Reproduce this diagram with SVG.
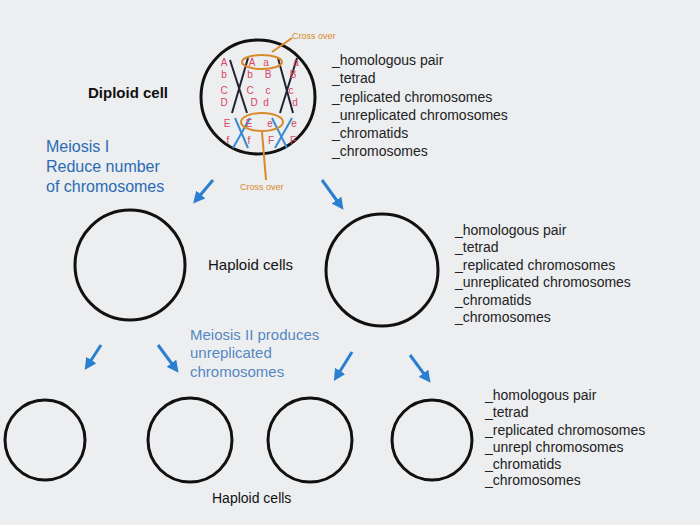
<svg xmlns="http://www.w3.org/2000/svg" width="700" height="525" viewBox="0 0 700 525">
<style>
.c{fill:none;stroke:#111;stroke-width:3}
.t{font-family:"Liberation Sans",Arial,sans-serif;fill:#111}
.lst{font-family:"Liberation Sans",Arial,sans-serif;fill:#222;font-size:14px}
.b{font-family:"Liberation Sans",Arial,sans-serif;fill:#2a6bb5}
.r{font-family:"Liberation Sans",Arial,sans-serif;fill:#d9455f;font-size:10px;text-anchor:middle}
.o{font-family:"Liberation Sans",Arial,sans-serif;fill:#d98a2b;font-size:9px}
.ar{stroke:#2a7fd0;stroke-width:3;fill:none;marker-end:url(#ah)}
</style>
<defs><marker id="ah" viewBox="0 0 10 10" refX="5" refY="5" markerWidth="4" markerHeight="4" orient="auto"><path d="M0,0L10,5L0,10z" fill="#2a7fd0"/></marker></defs>
<rect width="700" height="525" fill="#eceef0"/>
<g id="diploid">
<circle class="c" cx="258" cy="97" r="57"/>
<g stroke="#223" stroke-width="2"><line x1="230" y1="60" x2="247" y2="113"/><line x1="248" y1="58" x2="232" y2="113"/><line x1="278" y1="58" x2="293" y2="113"/><line x1="297" y1="58" x2="280" y2="113"/></g>
<g stroke="#3a8ad0" stroke-width="2"><line x1="235" y1="118" x2="248" y2="148"/><line x1="250" y1="118" x2="233" y2="148"/><line x1="272" y1="118" x2="287" y2="148"/><line x1="292" y1="118" x2="275" y2="148"/></g>
<g class="r"><text x="224" y="66">A</text><text x="252" y="66">A</text><text x="266" y="66">a</text><text x="296" y="66">a</text>
<text x="224" y="78">b</text><text x="250" y="78">b</text><text x="268" y="78">B</text><text x="293" y="78">B</text>
<text x="224" y="94">C</text><text x="250" y="94">C</text><text x="268" y="94">c</text><text x="291" y="94">c</text>
<text x="224" y="106">D</text><text x="254" y="106">D</text><text x="266" y="106">d</text><text x="295" y="106">d</text>
<text x="227" y="127">E</text><text x="249" y="127">E</text><text x="270" y="127">e</text><text x="294" y="127">e</text>
<text x="228" y="144">f</text><text x="249" y="144">f</text><text x="271" y="144">F</text><text x="293" y="144">F</text></g>
<g stroke="#d98a2b" stroke-width="2" fill="none"><ellipse cx="262" cy="62" rx="20" ry="7"/><ellipse cx="262" cy="122" rx="21" ry="9"/><line x1="292" y1="38" x2="272" y2="52"/><line x1="266" y1="180" x2="262" y2="132"/></g>
<text class="o" x="292" y="39">Cross over</text><text class="o" x="240" y="190">Cross over</text>
<text class="t" x="88" y="98" font-size="15" font-weight="bold">Diploid cell</text>
<g class="lst" font-size="16"><text x="332" y="65">_homologous pair</text><text x="332" y="83">_tetrad</text><text x="332" y="102">_replicated chromosomes</text><text x="332" y="120">_unreplicated chromosomes</text><text x="332" y="138">_chromatids</text><text x="332" y="156">_chromosomes</text></g>
</g>
<g id="meiosis1" class="b" font-size="16"><text x="46" y="152">Meiosis I</text><text x="46" y="172">Reduce number</text><text x="46" y="192">of chromosomes</text></g>
<g id="haploid1"><circle class="c" cx="130" cy="265" r="55"/><circle class="c" cx="382" cy="270" r="56"/>
<text class="t" x="208" y="270" font-size="15">Haploid cells</text>
<g class="lst"><text x="455" y="235">_homologous pair</text><text x="455" y="252">_tetrad</text><text x="455" y="270">_replicated chromosomes</text><text x="455" y="287">_unreplicated chromosomes</text><text x="455" y="305">_chromatids</text><text x="455" y="322">_chromosomes</text></g></g>
<g id="meiosis2" class="b" font-size="15" fill-opacity="0.8"><text x="190" y="340">Meiosis II produces</text><text x="190" y="358">unreplicated</text><text x="190" y="377">chromosomes</text></g>
<g id="haploid2"><circle class="c" cx="45" cy="440" r="40"/><circle class="c" cx="190" cy="440" r="42"/><circle class="c" cx="310" cy="440" r="42"/><circle class="c" cx="432" cy="440" r="40"/>
<text class="t" x="212" y="503" font-size="14" fill="#333">Haploid cells</text>
<g class="lst" font-size="13"><text x="485" y="400">_homologous pair</text><text x="485" y="417">_tetrad</text><text x="485" y="435">_replicated chromosomes</text><text x="485" y="452">_unrepl chromosomes</text><text x="485" y="469">_chromatids</text><text x="485" y="485">_chromosomes</text></g></g>
<g id="connectors">
<line class="ar" x1="213" y1="180" x2="197" y2="199"/><line class="ar" x1="322" y1="180" x2="340" y2="205"/>
<line class="ar" x1="101" y1="345" x2="88" y2="365"/><line class="ar" x1="158" y1="345" x2="175" y2="368"/>
<line class="ar" x1="352" y1="352" x2="337" y2="376"/><line class="ar" x1="410" y1="355" x2="427" y2="378"/>
</g>
</svg>
